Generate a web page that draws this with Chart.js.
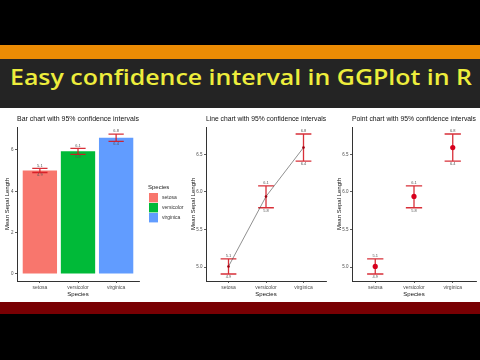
<!DOCTYPE html>
<html>
<head>
<meta charset="utf-8">
<script src="https://cdn.jsdelivr.net/npm/chart.js@4.4.1/dist/chart.umd.min.js"></script>
<style>
  html, body { margin: 0; padding: 0; }
  body { width: 480px; height: 360px; background: #000; position: relative; overflow: hidden; }
  .band { position: absolute; left: 0; width: 480px; }
  #headline { position: absolute; left: 10px; top: 67px; font-family: "Open Sans", sans-serif; font-weight: 600; font-size: 21px; line-height: 20px; color: #EDED3C; white-space: nowrap; transform-origin: 0 0; }
  canvas { position: absolute; top: 108px; }
</style>
</head>
<body>
<div class="band" style="top:45px;height:14px;background:#EC8C04"></div>
<div class="band" style="top:59px;height:49px;background:#242424"></div>
<div class="band" style="top:108px;height:194px;background:#fff"></div>
<div class="band" style="top:302px;height:12px;background:#790003"></div>
<div id="headline">Easy confidence interval in GGPlot in R</div>
<canvas id="c1" width="190" height="194" style="left:0px"></canvas>
<canvas id="c2" width="144" height="194" style="left:186px"></canvas>
<canvas id="c3" width="148" height="194" style="left:332px"></canvas>
<script>
// ---- data ----
const species = ['setosa', 'versicolor', 'virginica'];
const meanLength = [5.01, 5.94, 6.59];
const ciLower = [4.91, 5.79, 6.41];
const ciUpper = [5.11, 6.08, 6.77];
const barColors = ['#F8766D', '#00BA38', '#619CFF'];
const barYTicks = [0, 2, 4, 6];
const zoomYTicks = [5.0, 5.5, 6.0, 6.5];
const titles = ['Bar chart with 95% confidence intervals', 'Line chart with 95% confidence intervals', 'Point chart with 95% confidence intervals'];

// headline width fit
(function () {
  const el = document.getElementById('headline');
  const w = el.getBoundingClientRect().width;
  el.style.transform = 'scaleX(' + (462 / w) + ')';
})();

const FONT = '"Liberation Sans", Arial, sans-serif';
Chart.defaults.font.family = FONT;
Chart.defaults.animation = false;

function errorBarPlugin(hook, capWidth) {
  return {
    id: 'errbars',
    [hook](chart) {
      const { ctx } = chart;
      const x = chart.scales.x, y = chart.scales.y;
      const half = x.getPixelForValue(1 + capWidth / 2) - x.getPixelForValue(1);
      ctx.save();
      species.forEach((s, i) => {
        const px = x.getPixelForValue(i + 1);
        const yl = y.getPixelForValue(ciLower[i]);
        const yu = y.getPixelForValue(ciUpper[i]);
        ctx.strokeStyle = 'rgba(212,24,34,0.9)';
        ctx.lineWidth = 1.3;
        ctx.beginPath();
        ctx.moveTo(px, yl); ctx.lineTo(px, yu);
        ctx.moveTo(px - half, yl); ctx.lineTo(px + half, yl);
        ctx.moveTo(px - half, yu); ctx.lineTo(px + half, yu);
        ctx.stroke();
        ctx.fillStyle = '#555';
        ctx.font = '4px ' + FONT;
        ctx.textAlign = 'center';
        ctx.textBaseline = 'bottom';
        ctx.fillText(ciUpper[i].toFixed(1), px, yu - 0.8);
        ctx.textBaseline = 'top';
        ctx.fillText(ciLower[i].toFixed(1), px, yl + 0.8);
      });
      ctx.restore();
    }
  };
}

const legendPlugin = {
  id: 'speciesLegend',
  afterDraw(chart) {
    const { ctx } = chart;
    ctx.save();
    ctx.fillStyle = '#222';
    ctx.font = '6px ' + FONT;
    ctx.textAlign = 'left';
    ctx.textBaseline = 'middle';
    ctx.fillText('Species', 148, 79);
    species.forEach((s, i) => {
      ctx.fillStyle = barColors[i];
      ctx.fillRect(149, 85 + i * 10, 9, 9.4);
      ctx.fillStyle = '#333';
      ctx.font = '5px ' + FONT;
      ctx.fillText(s, 162, 90 + i * 10);
    });
    ctx.restore();
  }
};

function scalesFor(yMin, yMax, yTicks, yWidth) {
  return {
    x: {
      type: 'linear', min: 0.4, max: 3.6, offset: false,
      afterBuildTicks: s => { s.ticks = species.map((c, i) => ({ value: i + 1 })); },
      afterFit: s => { s.height = 21; },
      ticks: { autoSkip: false, maxRotation: 0, padding: 1.5, color: '#4D4D4D', font: { size: 5 },
               callback: v => species[Math.round(v) - 1] },
      grid: { display: true, offset: false, drawOnChartArea: false, drawTicks: true, tickLength: 2, color: '#333', lineWidth: 0.8 },
      border: { display: true, color: '#333', width: 1 },
      title: { display: true, text: 'Species', color: '#111', font: { size: 6 }, padding: { top: 0, bottom: 3.7 } }
    },
    y: {
      type: 'linear', min: yMin, max: yMax,
      afterBuildTicks: s => { s.ticks = yTicks.map(v => ({ value: v })); },
      afterFit: s => { s.width = yWidth; },
      ticks: { autoSkip: false, padding: 1.5, color: '#4D4D4D', font: { size: 4.5 },
               callback: v => (yTicks === barYTicks ? String(v) : v.toFixed(1)) },
      grid: { display: true, drawOnChartArea: false, drawTicks: true, tickLength: 2, color: '#333', lineWidth: 0.8 },
      border: { display: true, color: '#333', width: 1 },
      title: { display: true, text: 'Mean Sepal Length', color: '#111', font: { size: 6 }, padding: { top: 3.4, bottom: 0 } }
    }
  };
}

function titleOpt(text) {
  return { display: true, text, align: 'start', fullSize: false, color: '#111',
           font: { size: 7, weight: 'normal' }, padding: { top: 7, bottom: 3.6 } };
}

const pts = meanLength.map((v, i) => ({ x: i + 1, y: v }));

new Chart(document.getElementById('c1'), {
  type: 'bar',
  data: { datasets: [{ data: pts, backgroundColor: barColors, categoryPercentage: 1, barPercentage: 0.9 }] },
  options: {
    responsive: false, devicePixelRatio: 1,
    layout: { padding: { left: 0, right: 51, top: 0, bottom: 0 } },
    scales: scalesFor(-0.34, 7.11, barYTicks, 17),
    plugins: { legend: { display: false }, tooltip: { enabled: false }, title: titleOpt(titles[0]) }
  },
  plugins: [errorBarPlugin('afterDatasetsDraw', 0.4), legendPlugin]
});

new Chart(document.getElementById('c2'), {
  type: 'line',
  data: { datasets: [{ data: pts, borderColor: '#444', borderWidth: 0.6, pointRadius: 1.3,
                       pointBackgroundColor: '#A00010', pointBorderWidth: 0 }] },
  options: {
    responsive: false, devicePixelRatio: 1,
    layout: { padding: { left: 0, right: 0, top: 0, bottom: 0 } },
    scales: scalesFor(4.817, 6.863, zoomYTicks, 20),
    plugins: { legend: { display: false }, tooltip: { enabled: false }, title: titleOpt(titles[1]) }
  },
  plugins: [errorBarPlugin('beforeDatasetsDraw', 0.42)]
});

new Chart(document.getElementById('c3'), {
  type: 'line',
  data: { datasets: [{ data: pts, showLine: false, pointRadius: 2.6,
                       pointBackgroundColor: '#D7001C', pointBorderWidth: 0 }] },
  options: {
    responsive: false, devicePixelRatio: 1,
    layout: { padding: { left: 0, right: 4, top: 0, bottom: 0 } },
    scales: scalesFor(4.817, 6.863, zoomYTicks, 20),
    plugins: { legend: { display: false }, tooltip: { enabled: false }, title: titleOpt(titles[2]) }
  },
  plugins: [errorBarPlugin('beforeDatasetsDraw', 0.42)]
});
</script>
</body>
</html>
